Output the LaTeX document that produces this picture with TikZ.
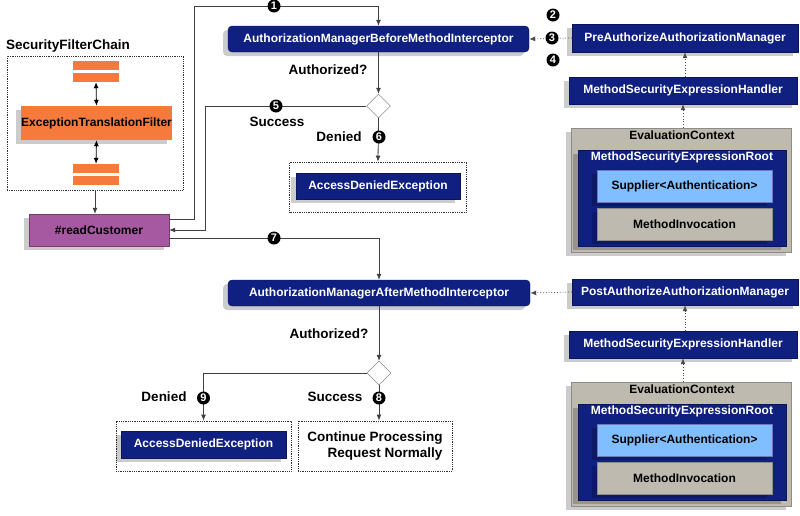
\documentclass[tikz,border=0pt]{standalone}
\usepackage{fontspec}
\setmainfont{Liberation Sans}
\usetikzlibrary{shapes.geometric,shadows,arrows.meta}
\definecolor{navy}{RGB}{16,32,128}
\definecolor{lightblue}{RGB}{128,190,255}
\definecolor{stone}{RGB}{190,186,176}
\definecolor{filterorange}{RGB}{245,122,60}
\definecolor{methodpurple}{RGB}{166,88,160}

\begin{document}
\begin{tikzpicture}[x=1pt,y=-1pt,
  every node/.style={font=\bfseries\fontsize{12}{14}\selectfont,inner sep=0pt},
  lbl/.style={font=\bfseries\fontsize{13.5}{16}\selectfont},
  shadebox/.style={drop shadow={shadow xshift=-5pt,shadow yshift=-4pt,fill=black,opacity=.2}},
  navybox/.style={shadebox,draw=navy!70!black,fill=navy,text=white},
  dotbox/.style={draw=black!80,densely dotted,thick},
  bar/.style={fill=filterorange,minimum width=46pt,minimum height=9pt},
  marker/.style={circle,fill=black,text=white,minimum size=13pt,font=\bfseries\fontsize{11}{11}\selectfont},
  arr/.style={draw=black!75,line width=.8pt,-{Latex[length=6pt,width=5pt]}},
  dotarr/.style={draw=black!70,line width=.8pt,dotted,-{Latex[length=6pt,width=5pt]}},
  dblarr/.style={draw=black,line width=.8pt,{Latex[length=6pt,width=5pt]}-{Latex[length=6pt,width=5pt]}},
  decision/.style={diamond,draw=black!60,fill=white,minimum width=24pt,minimum height=24pt}]
\useasboundingbox (0,0) rectangle (800,515);

% filter chain
\node[lbl,anchor=west] (chainlbl) at (6,46) {SecurityFilterChain};
\node[dotbox,minimum width=176pt,minimum height=134pt] (chain) at (95,123) {};
\node[bar] (bara) at (96,65.5) {};
\node[bar] (barb) at (96,77.5) {};
\node[shadebox,fill=filterorange,minimum width=151pt,minimum height=34pt] (etf) at (96.5,123) {ExceptionTranslationFilter};
\node[bar] (barc) at (96,168.5) {};
\node[bar] (bard) at (96,180) {};
\draw[dblarr] (barb.south) -- (etf.north);
\draw[dblarr] (etf.south) -- (barc.north);
\node[shadebox,draw=methodpurple!70!black,fill=methodpurple,minimum width=140pt,minimum height=32pt] (cust) at (99,230) {\#readCustomer};
\draw[arr] (chain.south) -- (cust.north -| chain.south);

% before invocation
\node[navybox,rounded corners=4pt,minimum width=301pt,minimum height=26pt] (before) at (378.5,39) {AuthorizationManagerBeforeMethodInterceptor};
\draw[arr] ([yshift=-6pt]cust.north east) -| (194,6) -| (before.north);
\node[marker] (m1) at (274,6) {1};
\node[lbl] (authq1) at (328,70) {Authorized?};
\node[decision] (dia1) at (378.5,106) {};
\draw[arr] (before.south) -- (dia1.north);
\draw[arr] (dia1.west) -| (205,230) -- (cust.east);
\node[marker] (m5) at (276,106) {5};
\node[lbl] (succ1) at (277,122) {Success};
\node[dotbox,minimum width=177pt,minimum height=50pt] (denyframe1) at (378,187) {};
\node[navybox,minimum width=164pt,minimum height=26pt] (deny1) at (378,186) {AccessDeniedException};
\draw[arr] (dia1.south) -- (denyframe1.north);
\node[lbl] (denied1) at (339,137) {Denied};
\node[marker] (m6) at (379,137) {6};

% pre authorize
\node[navybox,minimum width=226pt,minimum height=28pt] (preauth) at (685,38) {PreAuthorizeAuthorizationManager};
\draw[dotarr] (preauth.west) -- (before.east);
\node[marker] (m2) at (553,15) {2};
\node[marker] (m3) at (552,38) {3};
\node[marker] (m4) at (553,60) {4};
\node[navybox,minimum width=228pt,minimum height=27pt] (mseh) at (683,90.5) {MethodSecurityExpressionHandler};
\draw[dotarr] (mseh.north -| preauth.south) -- (preauth.south);
\node[shadebox,draw=black!45,fill=stone,minimum width=220pt,minimum height=124pt] (eval) at (681,190) {};
\node (evaltitle) at (682,135) {EvaluationContext};
\draw[dotarr] (eval.north -| mseh.south) -- (mseh.south);
\node[navybox,minimum width=208pt,minimum height=96pt] (root) at (682,198) {};
\node[text=white] (roottitle) at (682,157) {MethodSecurityExpressionRoot};
\node[shadebox,draw=navy!60,fill=lightblue,minimum width=175pt,minimum height=32pt] (supplier) at (684.5,186) {Supplier<Authentication>};
\node[shadebox,draw=black!45,fill=stone,minimum width=175pt,minimum height=32pt] (invoc) at (684.5,224) {MethodInvocation};

% after invocation
\node[navybox,rounded corners=4pt,minimum width=302pt,minimum height=26pt] (after) at (379,293) {AuthorizationManagerAfterMethodInterceptor};
\draw[arr] ([yshift=8pt]cust.south east) -| (after.north);
\node[marker] (m7) at (274,238) {7};
\node[lbl] (authq2) at (329,334) {Authorized?};
\node[decision] (dia2) at (379,373) {};
\draw[arr] (after.south) -- (dia2.north);
\node[dotbox,minimum width=175pt,minimum height=50pt] (denyframe2) at (203.5,446) {};
\node[navybox,minimum width=165pt,minimum height=27pt] (deny2) at (203.5,444.5) {AccessDeniedException};
\draw[arr] (dia2.west) -| (denyframe2.north);
\node[lbl] (denied2) at (164,397) {Denied};
\node[marker] (m9) at (203.5,398) {9};
\node[dotbox,lbl,align=right,minimum width=154pt,minimum height=50pt] (cont) at (375,446) {Continue Processing\\Request Normally};
\draw[arr] (dia2.south) -- (dia2.south |- cont.north);
\node[lbl] (succ2) at (335,397) {Success};
\node[marker] (m8) at (379,398) {8};

% post authorize
\node[navybox,minimum width=226pt,minimum height=26pt] (postauth) at (685,292) {PostAuthorizeAuthorizationManager};
\draw[dotarr] (postauth.west) -- (after.east);
\node[navybox,minimum width=228pt,minimum height=27pt] (mseh2) at (683,344.5) {MethodSecurityExpressionHandler};
\draw[dotarr] (mseh2.north -| postauth.south) -- (postauth.south);
\node[shadebox,draw=black!45,fill=stone,minimum width=220pt,minimum height=124pt] (eval2) at (681,444) {};
\node (evaltitle2) at (682,389) {EvaluationContext};
\draw[dotarr] (eval2.north -| mseh2.south) -- (mseh2.south);
\node[navybox,minimum width=208pt,minimum height=96pt] (root2) at (682,452) {};
\node[text=white] (roottitle2) at (682,411) {MethodSecurityExpressionRoot};
\node[shadebox,draw=navy!60,fill=lightblue,minimum width=175pt,minimum height=32pt] (supplier2) at (684.5,440) {Supplier<Authentication>};
\node[shadebox,draw=black!45,fill=stone,minimum width=175pt,minimum height=32pt] (invoc2) at (684.5,478) {MethodInvocation};
\end{tikzpicture}
\end{document}
